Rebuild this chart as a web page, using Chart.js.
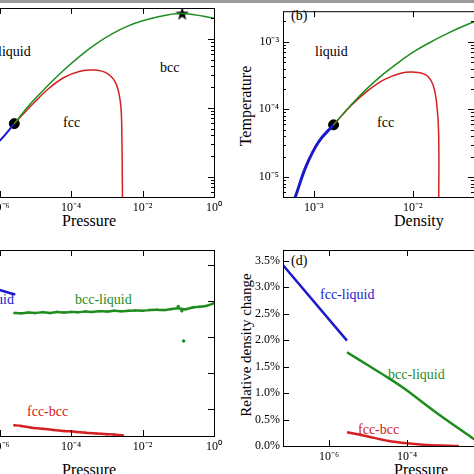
<!DOCTYPE html>
<html>
<head>
<meta charset="utf-8">
<script src="https://cdn.jsdelivr.net/npm/chart.js@4"></script>
<style>
  body { margin: 0; width: 474px; height: 474px; overflow: hidden; background: #fff; position: relative; font-family: 'Liberation Serif', serif; }
  canvas { position: absolute; }
  .t { position: absolute; font-size: 14px; white-space: nowrap; line-height: 1; }
  .ttl { position: absolute; font-size: 16px; white-space: nowrap; line-height: 1; }
  .rot { transform: translate(-50%, -50%) rotate(-90deg); }
</style>
</head>
<body>
<div style="position:absolute;left:0;top:0;width:474px;height:3px;background:#9a9a9a"></div>

<!-- panel text -->
<div class="t" style="left:-2px;top:45px">liquid</div>
<div class="t" style="left:160px;top:61px">bcc</div>
<div class="t" style="left:63px;top:116px">fcc</div>
<div class="ttl" style="left:62px;top:213px">Pressure</div>

<div class="t" style="left:291px;top:9px">(b)</div>
<div class="t" style="left:315px;top:45px">liquid</div>
<div class="t" style="left:377px;top:116px">fcc</div>
<div class="ttl" style="left:394px;top:213px">Density</div>
<div class="ttl rot" style="left:246px;top:106px">Temperature</div>

<div class="t" style="right:460px;top:293px;color:#1a1acc">fcc-liquid</div>
<div class="t" style="left:75px;top:293px;color:#1e8c1e">bcc-liquid</div>
<div class="t" style="left:27px;top:405px;color:#d42020">fcc-bcc</div>
<div class="ttl" style="left:62px;top:462px">Pressure</div>

<div class="t" style="left:291px;top:254px">(d)</div>
<div class="t" style="left:320px;top:288px;color:#1a1acc">fcc-liquid</div>
<div class="t" style="left:388px;top:368px;color:#1e8c1e">bcc-liquid</div>
<div class="t" style="left:358px;top:423px;color:#d42020">fcc-bcc</div>
<div class="ttl" style="left:394px;top:462px">Pressure</div>
<div class="ttl rot" style="left:246px;top:345px;font-size:15px">Relative density change</div>

<canvas id="ca" style="left:-60px;top:0" width="286" height="237"></canvas>
<canvas id="cb" style="left:237px;top:0" width="243" height="237"></canvas>
<canvas id="cc" style="left:-60px;top:237px" width="286" height="237"></canvas>
<canvas id="cd" style="left:237px;top:237px" width="243" height="250"></canvas>

<script>
// (a) phase diagram, log10 pressure / log10 temperature
var aGreenP = [-5.59, -5.10, -4.20, -3.30, -2.40, -1.49, -0.89, 0.0, 0.5]
var aGreenT = [-4.23, -3.92, -3.45, -3.07, -2.81, -2.67, -2.63, -2.70, -2.76]
var aRedP = [-5.59, -5.10, -4.65, -4.20, -3.75, -3.39, -3.03, -2.76, -2.62, -2.58, -2.56]
var aRedT = [-4.23, -3.96, -3.73, -3.56, -3.47, -3.45, -3.49, -3.63, -3.92, -4.38, -5.5]
var aBlueP = [-6.6, -6.0, -5.59]
var aBlueT = [-4.78, -4.48, -4.23]
var aStar = [-0.89, -2.63]

// (b) log10 density / log10 temperature
var bGreenD = [-2.80, -2.62, -2.46, -2.29, -2.13, -1.97, -1.80, -1.64, -1.44, -1.30]
var bGreenT = [-4.23, -3.93, -3.69, -3.47, -3.29, -3.13, -2.99, -2.87, -2.74, -2.66]
var bRedD = [-2.80, -2.62, -2.46, -2.29, -2.13, -2.00, -1.87, -1.80, -1.76, -1.74, -1.74]
var bRedT = [-4.23, -3.94, -3.73, -3.56, -3.47, -3.45, -3.49, -3.63, -3.92, -4.38, -5.5]
var bBlueD = [-2.80, -2.95, -3.08, -3.19, -3.25]
var bBlueT = [-4.23, -4.48, -4.85, -5.31, -5.5]

// (c) log10 pressure / value (arb.)
var cBlueP = [-6.6, -6.3, -6.0, -5.8, -5.59]
var cBlueV = [4.30, 4.33, 4.31, 4.25, 4.19]
var cGreenP = [-5.59, -5.4, -5.2, -5.0, -4.8, -4.6, -4.4, -4.2, -4.0, -3.8, -3.6, -3.4, -3.2, -3.0, -2.8, -2.6, -2.4, -2.2, -2.0, -1.8, -1.6, -1.4, -1.2, -1.0, -0.8, -0.6, -0.4, -0.2, 0.0]
var cGreenV = [3.67, 3.66, 3.68, 3.67, 3.69, 3.67, 3.70, 3.68, 3.70, 3.69, 3.71, 3.70, 3.72, 3.71, 3.73, 3.72, 3.73, 3.74, 3.73, 3.75, 3.76, 3.75, 3.78, 3.80, 3.77, 3.82, 3.84, 3.87, 3.94]
var cOutP = [-1.0, -0.9, -0.85]
var cOutV = [3.85, 3.73, 2.89]
var cRedP = [-5.59, -5.4, -5.1, -4.8, -4.5, -4.2, -3.9, -3.6, -3.3, -3.0, -2.8, -2.55]
var cRedV = [0.55, 0.53, 0.48, 0.45, 0.42, 0.39, 0.37, 0.34, 0.32, 0.30, 0.29, 0.27]
var cTicks = [1, 2, 3, 4, 5]

// (d) log10 pressure / relative density change (%)
var dBlueP = [-7.3, -5.54]
var dBlueV = [3.52, 1.99]
var dGreenP = [-5.54, -4.95, -4.51, -4.08, -3.23, -2.38, -2.28, -2.1]
var dGreenV = [1.77, 1.50, 1.30, 1.09, 0.62, 0.18, 0.13, 0.08]
var dRedP = [-5.54, -5.0, -4.5, -4.0, -3.5, -2.67]
var dRedV = [0.26, 0.18, 0.10, 0.05, 0.02, 0.0]
var dTicks = [0, 0.5, 1.0, 1.5, 2.0, 2.5, 3.0, 3.5]

var BLUE = '#1a1acc', GREEN = '#1e8c1e', RED = '#d42020'
var FONT = { family: 'Liberation Serif', size: 12 }

function pts(xs, ys, logx, logy) {
	return xs.map(function (x, i) {
		return { x: logx ? Math.pow(10, x) : x, y: logy ? Math.pow(10, ys[i]) : ys[i] }
	})
}

function sup(n) {
	var m = { '-': '\u207b', '0': '\u2070', '1': '\u00b9', '2': '\u00b2', '3': '\u00b3', '4': '\u2074', '5': '\u2075', '6': '\u2076', '7': '\u2077', '8': '\u2078', '9': '\u2079' }
	return String(n).split('').map(function (c) { return m[c] }).join('')
}

function starImg() {
	var c = document.createElement('canvas')
	c.width = 14; c.height = 14
	var g = c.getContext('2d')
	g.beginPath()
	for (var i = 0; i < 10; i++) {
		var r = i % 2 ? 2.8 : 7, a = -Math.PI / 2 + i * Math.PI / 5
		g.lineTo(7 + r * Math.cos(a), 7.5 + r * Math.sin(a))
	}
	g.closePath(); g.fillStyle = '#000'; g.fill()
	return c
}

function line(data, color, width, tension) {
	return { data: data, borderColor: color, borderWidth: width || 1.5, pointRadius: 0, showLine: true, tension: tension == null ? 0.4 : tension }
}
function dots(data, color, width) {
	return { data: data, borderColor: color, backgroundColor: color, borderWidth: width || 2.5, pointRadius: 1, pointBorderWidth: 0.5, showLine: true, tension: 0.2 }
}

function logAxis(min, max, step, show, size) {
	return {
		type: 'logarithmic', min: Math.pow(10, min), max: Math.pow(10, max),
		grid: { display: false, drawTicks: false }, border: { display: false },
		afterBuildTicks: function (s) {
			var t = []
			for (var e = Math.ceil(min); e <= max + 1e-9; e++) if (((e % step) + step) % step == 0) t.push({ value: Math.pow(10, e) })
			s.ticks = t
		},
		afterFit: function (s) { if (s.isHorizontal()) s.height = size; else s.width = size },
		ticks: {
			display: show, color: '#000', font: FONT, padding: 4, autoSkip: false, maxRotation: 0,
			callback: function (v) { return '10' + sup(Math.round(Math.log10(v))) }
		}
	}
}
function linAxis(min, max, ticks, show, size, fmt) {
	return {
		type: 'linear', min: min, max: max,
		grid: { display: false, drawTicks: false }, border: { display: false },
		afterBuildTicks: function (s) { s.ticks = ticks.map(function (v) { return { value: v } }) },
		afterFit: function (s) { s.width = size },
		ticks: { display: show, color: '#000', font: FONT, padding: 3, callback: fmt }
	}
}

// frame with inward ticks on all four sides
var frame = {
	id: 'frame',
	afterDraw: function (chart) {
		var g = chart.ctx, a = chart.chartArea
		g.save()
		g.strokeStyle = '#000'; g.lineWidth = 1
		g.strokeRect(a.left + 0.5, a.top + 0.5, a.right - a.left, a.bottom - a.top)
		g.beginPath()
		var xs = chart.scales.x, ys = chart.scales.y
		xs.ticks.forEach(function (t) {
			var p = Math.round(xs.getPixelForValue(t.value)) + 0.5
			g.moveTo(p, a.bottom); g.lineTo(p, a.bottom - 6)
			g.moveTo(p, a.top); g.lineTo(p, a.top + 6)
		})
		ys.ticks.forEach(function (t) {
			var p = Math.round(ys.getPixelForValue(t.value)) + 0.5
			g.moveTo(a.left, p); g.lineTo(a.left + 6, p)
			g.moveTo(a.right, p); g.lineTo(a.right - 6, p)
		})
		if (ys.type == 'logarithmic') {
			for (var e = Math.floor(Math.log10(ys.min)); e < Math.log10(ys.max); e++) {
				for (var k = 2; k < 10; k++) {
					var v = k * Math.pow(10, e)
					if (v < ys.min || v > ys.max) continue
					var p = Math.round(ys.getPixelForValue(v)) + 0.5
					g.moveTo(a.left, p); g.lineTo(a.left + 3, p)
					g.moveTo(a.right, p); g.lineTo(a.right - 3, p)
				}
			}
		}
		g.stroke()
		g.restore()
	}
}

function make(id, datasets, scales, pad) {
	return new Chart(document.getElementById(id), {
		type: 'scatter',
		data: { datasets: datasets },
		options: {
			responsive: false, animation: false,
			layout: { padding: pad },
			plugins: { legend: { display: false }, tooltip: { enabled: false } },
			scales: scales
		},
		plugins: [frame]
	})
}

var star = starImg()

make('ca', [
	line(pts(aGreenP, aGreenT, true, true), GREEN),
	line(pts(aRedP, aRedT, true, true), RED),
	line(pts(aBlueP, aBlueT, true, true), BLUE, 2),
	{ data: pts([aGreenP[0]], [aGreenT[0]], true, true), pointRadius: 5, backgroundColor: '#000', borderColor: '#000' },
	{ data: pts([aStar[0]], [aStar[1]], true, true), pointStyle: star, pointRadius: 7 }
], {
	x: logAxis(-6.41, 0, 2, true, 40),
	y: logAxis(-5.296, -2.55, 1, false, 45)
}, { top: 3, right: 3, left: 0, bottom: 0 })

make('cb', [
	line(pts(bGreenD, bGreenT, true, true), GREEN),
	line(pts(bRedD, bRedT, true, true), RED),
	line(pts(bBlueD, bBlueT, true, true), BLUE, 3),
	{ data: pts([bGreenD[0]], [bGreenT[0]], true, true), pointRadius: 5, backgroundColor: '#000', borderColor: '#000' }
], {
	x: logAxis(-3.31, -1.384, 1, true, 40),
	y: logAxis(-5.296, -2.55, 1, true, 46)
}, { top: 3, right: 0, left: 0, bottom: 0 })

make('cc', [
	dots(pts(cBlueP, cBlueV, true, false), BLUE),
	dots(pts(cGreenP, cGreenV, true, false), GREEN),
	{ data: pts(cOutP, cOutV, true, false), pointRadius: 1.3, backgroundColor: GREEN, borderColor: GREEN },
	dots(pts(cRedP, cRedV, true, false), RED)
], {
	x: logAxis(-6.41, 0, 2, true, 38),
	y: linAxis(0.25, 5.42, cTicks, false, 45)
}, { top: 13, right: 3, left: 0, bottom: 0 })

make('cd', [
	line(pts(dBlueP, dBlueV, true, false), BLUE, 2.5, 0),
	line(pts(dGreenP, dGreenV, true, false), GREEN, 2.5, 0.3),
	line(pts(dRedP, dRedV, true, false), RED, 2.5, 0.3)
], {
	x: logAxis(-7.18, -2.13, 2, true, 41),
	y: linAxis(0, 3.70, dTicks, true, 46, function (v) { return v.toFixed(1) + '%' })
}, { top: 13, right: 0, left: 0, bottom: 0 })
</script>
</body>
</html>
